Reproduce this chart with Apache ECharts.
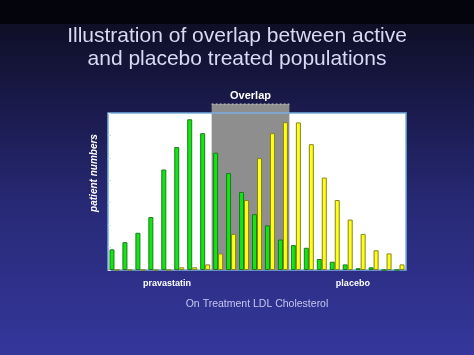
<!DOCTYPE html>
<html>
<head>
<meta charset="utf-8">
<script src="https://cdn.jsdelivr.net/npm/echarts@6/dist/echarts.min.js"></script>
<style>
  html, body { margin: 0; padding: 0; }
  #chart { width: 474px; height: 355px; }
</style>
</head>
<body>
<div id="chart"></div>
<script>
// ---- data ----
const categories = ['1','2','3','4','5','6','7','8','9','10','11','12','13','14','15','16','17','18','19','20','21','22','23'];
const pravastatin = [0.92, 1.24, 1.66, 2.36, 4.48, 5.48, 6.72, 6.10, 5.23, 4.32, 3.48, 2.49, 1.99, 1.36, 1.11, 0.99, 0.49, 0.37, 0.25, 0.08, 0.12, 0, 0];
const placebo     = [0, 0, 0, 0, 0, 0.12, 0.12, 0.25, 0.74, 1.61, 3.12, 4.99, 6.10, 6.59, 6.58, 5.61, 4.12, 3.12, 2.25, 1.61, 0.88, 0.74, 0.25];
const overlapRange = [8, 14, 7.4];           // start bin, end bin, top of shaded band
const groupLabels = ['pravastatin', 'placebo'];
const groupLabelPositions = [4.55, 18.9];
const yMax = 7;

const chart = echarts.init(document.getElementById('chart'), null, { renderer: 'canvas' });

const option = {
  backgroundColor: {
    type: 'linear', x: 0, y: 0, x2: 0, y2: 1,
    colorStops: [
      { offset: 0, color: '#04040c' },
      { offset: 0.066, color: '#04040c' },
      { offset: 0.069, color: '#0f0f27' },
      { offset: 0.3, color: '#1a1a4c' },
      { offset: 0.6, color: '#282a78' },
      { offset: 1, color: '#35379c' }
    ]
  },
  textStyle: { fontFamily: 'Liberation Sans' },
  title: {
    text: 'Illustration of overlap between active\nand placebo treated populations',
    left: 'center',
    top: 20,
    textStyle: {
      fontFamily: 'Liberation Sans',
      fontSize: 21,
      lineHeight: 23,
      fontWeight: 'normal',
      color: '#d9d9f3',
      align: 'center'
    }
  },
  grid: {
    left: 108, right: 68, top: 113, bottom: 85,
    show: true,
    backgroundColor: '#ffffff',
    borderColor: '#78aee0',
    borderWidth: 1.5
  },
  xAxis: [
    {
      type: 'category',
      data: categories,
      boundaryGap: true,
      axisLine: { show: false },
      axisTick: { show: false },
      axisLabel: { show: false },
      name: 'On Treatment LDL Cholesterol',
      nameLocation: 'middle',
      nameGap: 29,
      nameTextStyle: { color: '#c4c6f2', fontSize: 10.5, fontFamily: 'Liberation Sans' }
    },
    {
      type: 'value',
      min: 0, max: categories.length,
      position: 'bottom',
      axisLine: { show: false },
      axisTick: { show: false },
      splitLine: { show: false },
      axisLabel: {
        customValues: groupLabelPositions,
        formatter: function (v) {
          const i = groupLabelPositions.findIndex(p => Math.abs(p - v) < 1e-6);
          return i >= 0 ? groupLabels[i] : '';
        },
        color: '#ffffff',
        fontWeight: 'bold',
        fontSize: 9,
        margin: 9,
        fontFamily: 'Liberation Sans'
      }
    }
  ],
  yAxis: {
    type: 'value',
    min: 0, max: yMax, interval: 1,
    axisLine: { show: false },
    axisTick: { show: true, inside: true, length: 3, lineStyle: { color: '#d8d8e8' } },
    axisLabel: { show: false },
    splitLine: { show: false },
    name: 'patient numbers',
    nameLocation: 'middle',
    nameGap: 9,
    nameTextStyle: {
      color: '#ffffff', fontSize: 10, fontWeight: 'bold', fontStyle: 'italic',
      fontFamily: 'Liberation Sans',
      padding: [0, 0, 0, 37]
    }
  },
  series: [
    {
      type: 'custom',
      xAxisIndex: 1,
      yAxisIndex: 0,
      clip: false,
      z: 1,
      silent: true,
      data: [overlapRange],
      renderItem: function (params, api) {
        const p0 = api.coord([api.value(0), 0]);
        const p1 = api.coord([api.value(1), api.value(2)]);
        const pTop = api.coord([api.value(0), yMax]);
        return {
          type: 'group',
          children: [
            { type: 'rect', shape: { x: p0[0], y: p1[1], width: p1[0] - p0[0], height: p0[1] - p1[1] },
              style: { fill: '#8e8e8e' } },
            { type: 'line', shape: { x1: p0[0], y1: p1[1], x2: p1[0], y2: p1[1] },
              style: { stroke: '#cfcfcf', lineWidth: 1, lineDash: [2, 2] } },
            { type: 'line', shape: { x1: p0[0], y1: pTop[1], x2: p1[0], y2: pTop[1] },
              style: { stroke: '#78aee0', lineWidth: 1.5 } },
            { type: 'text', x: (p0[0] + p1[0]) / 2, y: p1[1] - 3,
              style: { text: 'Overlap', fill: '#ffffff', font: 'bold 11px "Liberation Sans"', align: 'center', verticalAlign: 'bottom' } }
          ]
        };
      }
    },
    {
      name: 'pravastatin',
      type: 'bar',
      data: pravastatin,
      barWidth: 5,
      barGap: '0%',
      z: 3,
      itemStyle: { color: '#12e612', borderColor: '#1c7a1c', borderWidth: 1 }
    },
    {
      name: 'placebo',
      type: 'bar',
      data: placebo,
      barWidth: 5,
      barGap: '0%',
      z: 3,
      itemStyle: { color: '#ffff14', borderColor: '#86841c', borderWidth: 1 }
    }
  ]
};

chart.setOption(option);
</script>
</body>
</html>
